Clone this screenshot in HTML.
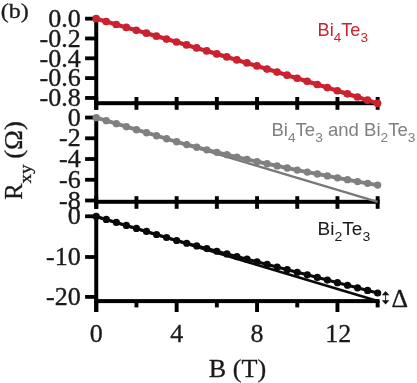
<!DOCTYPE html><html><head><meta charset="utf-8"><title>Hall resistance</title><style>html,body{margin:0;padding:0;background:#fff}svg{display:block}text{font-family:"Liberation Serif",serif}.s{font-family:"Liberation Sans",sans-serif}</style></head><body>
<svg width="417" height="383" viewBox="0 0 417 383">
<rect width="417" height="383" fill="#fff"/>
<rect x="94.25" y="16.70" width="4.00" height="93.10" fill="#000000"/>
<rect x="94.25" y="101.20" width="285.35" height="4.00" fill="#000000"/>
<rect x="85.10" y="16.75" width="11.15" height="3.80" fill="#000000"/>
<text transform="translate(80.80,26.95) scale(1.03,1)" font-size="25.3" text-anchor="end" fill="#1a1a1a" stroke="#1a1a1a" stroke-width="0.35">0.0</text>
<rect x="85.10" y="36.58" width="11.15" height="3.80" fill="#000000"/>
<text transform="translate(80.80,46.78) scale(1.03,1)" font-size="25.3" text-anchor="end" fill="#1a1a1a" stroke="#1a1a1a" stroke-width="0.35">-0.2</text>
<rect x="85.10" y="56.40" width="11.15" height="3.80" fill="#000000"/>
<text transform="translate(80.80,66.60) scale(1.03,1)" font-size="25.3" text-anchor="end" fill="#1a1a1a" stroke="#1a1a1a" stroke-width="0.35">-0.4</text>
<rect x="85.10" y="76.22" width="11.15" height="3.80" fill="#000000"/>
<text transform="translate(80.80,86.42) scale(1.03,1)" font-size="25.3" text-anchor="end" fill="#1a1a1a" stroke="#1a1a1a" stroke-width="0.35">-0.6</text>
<rect x="85.10" y="96.05" width="11.15" height="3.80" fill="#000000"/>
<text transform="translate(80.80,106.25) scale(1.03,1)" font-size="25.3" text-anchor="end" fill="#1a1a1a" stroke="#1a1a1a" stroke-width="0.35">-0.8</text>
<rect x="94.30" y="97.00" width="3.90" height="12.80" fill="#000000"/>
<rect x="134.50" y="97.00" width="3.90" height="12.80" fill="#000000"/>
<rect x="174.70" y="97.00" width="3.90" height="12.80" fill="#000000"/>
<rect x="214.90" y="97.00" width="3.90" height="12.80" fill="#000000"/>
<rect x="255.10" y="97.00" width="3.90" height="12.80" fill="#000000"/>
<rect x="295.30" y="97.00" width="3.90" height="12.80" fill="#000000"/>
<rect x="335.50" y="97.00" width="3.90" height="12.80" fill="#000000"/>
<rect x="375.70" y="97.00" width="3.90" height="12.80" fill="#000000"/>
<rect x="94.25" y="115.60" width="4.00" height="93.20" fill="#000000"/>
<rect x="94.25" y="199.80" width="285.35" height="4.00" fill="#000000"/>
<rect x="85.10" y="115.65" width="11.15" height="3.80" fill="#000000"/>
<text transform="translate(80.80,125.55) scale(1.03,1)" font-size="25.3" text-anchor="end" fill="#1a1a1a" stroke="#1a1a1a" stroke-width="0.35">0</text>
<rect x="85.10" y="136.39" width="11.15" height="3.80" fill="#000000"/>
<text transform="translate(80.80,146.29) scale(1.03,1)" font-size="25.3" text-anchor="end" fill="#1a1a1a" stroke="#1a1a1a" stroke-width="0.35">-2</text>
<rect x="85.10" y="157.12" width="11.15" height="3.80" fill="#000000"/>
<text transform="translate(80.80,167.03) scale(1.03,1)" font-size="25.3" text-anchor="end" fill="#1a1a1a" stroke="#1a1a1a" stroke-width="0.35">-4</text>
<rect x="85.10" y="177.86" width="11.15" height="3.80" fill="#000000"/>
<text transform="translate(80.80,187.76) scale(1.03,1)" font-size="25.3" text-anchor="end" fill="#1a1a1a" stroke="#1a1a1a" stroke-width="0.35">-6</text>
<rect x="85.10" y="198.60" width="11.15" height="3.80" fill="#000000"/>
<text transform="translate(80.80,208.50) scale(1.03,1)" font-size="25.3" text-anchor="end" fill="#1a1a1a" stroke="#1a1a1a" stroke-width="0.35">-8</text>
<rect x="94.30" y="196.20" width="3.90" height="12.60" fill="#000000"/>
<rect x="134.50" y="196.20" width="3.90" height="12.60" fill="#000000"/>
<rect x="174.70" y="196.20" width="3.90" height="12.60" fill="#000000"/>
<rect x="214.90" y="196.20" width="3.90" height="12.60" fill="#000000"/>
<rect x="255.10" y="196.20" width="3.90" height="12.60" fill="#000000"/>
<rect x="295.30" y="196.20" width="3.90" height="12.60" fill="#000000"/>
<rect x="335.50" y="196.20" width="3.90" height="12.60" fill="#000000"/>
<rect x="375.70" y="196.20" width="3.90" height="12.60" fill="#000000"/>
<rect x="94.25" y="214.50" width="4.00" height="97.50" fill="#000000"/>
<rect x="94.25" y="299.10" width="285.35" height="4.00" fill="#000000"/>
<rect x="85.10" y="214.40" width="11.15" height="3.80" fill="#000000"/>
<text transform="translate(80.80,224.30) scale(1.03,1)" font-size="25.3" text-anchor="end" fill="#1a1a1a" stroke="#1a1a1a" stroke-width="0.35">0</text>
<rect x="85.10" y="255.10" width="11.15" height="3.80" fill="#000000"/>
<text transform="translate(80.80,265.00) scale(1.03,1)" font-size="25.3" text-anchor="end" fill="#1a1a1a" stroke="#1a1a1a" stroke-width="0.35">-10</text>
<rect x="85.10" y="295.00" width="11.15" height="3.80" fill="#000000"/>
<text transform="translate(80.80,304.90) scale(1.03,1)" font-size="25.3" text-anchor="end" fill="#1a1a1a" stroke="#1a1a1a" stroke-width="0.35">-20</text>
<rect x="94.30" y="301.00" width="3.90" height="11.00" fill="#000000"/>
<rect x="134.50" y="301.00" width="3.90" height="6.40" fill="#000000"/>
<rect x="174.70" y="301.00" width="3.90" height="11.00" fill="#000000"/>
<rect x="214.90" y="301.00" width="3.90" height="6.40" fill="#000000"/>
<rect x="255.10" y="301.00" width="3.90" height="11.00" fill="#000000"/>
<rect x="295.30" y="301.00" width="3.90" height="6.40" fill="#000000"/>
<rect x="335.50" y="301.00" width="3.90" height="11.00" fill="#000000"/>
<rect x="375.70" y="301.00" width="3.90" height="6.40" fill="#000000"/>
<text transform="translate(96.25,342.30) scale(1.0,1)" font-size="26" text-anchor="middle" fill="#1a1a1a" stroke="#1a1a1a" stroke-width="0.3">0</text>
<text transform="translate(176.65,342.30) scale(1.0,1)" font-size="26" text-anchor="middle" fill="#1a1a1a" stroke="#1a1a1a" stroke-width="0.3">4</text>
<text transform="translate(257.05,342.30) scale(1.0,1)" font-size="26" text-anchor="middle" fill="#1a1a1a" stroke="#1a1a1a" stroke-width="0.3">8</text>
<text transform="translate(338.25,342.30) scale(1.0,1)" font-size="26" text-anchor="middle" fill="#1a1a1a" stroke="#1a1a1a" stroke-width="0.3">12</text>
<text transform="translate(237.50,376.70) scale(1.067,1)" font-size="24.5" text-anchor="middle" fill="#1a1a1a" stroke="#1a1a1a" stroke-width="0.3">B (T)</text>
<text transform="translate(0.80,17.50) scale(1.1,1)" font-size="21.8" text-anchor="start" fill="#1a1a1a" stroke="#1a1a1a" stroke-width="0.3">(b)</text>
<text transform="translate(22,199.7) rotate(-90)" font-size="24.5" fill="#1a1a1a" stroke="#1a1a1a" stroke-width="0.3">R</text>
<text transform="translate(31,183.6) rotate(-90) scale(1.13,1)" font-size="17" fill="#1a1a1a" stroke="#1a1a1a" stroke-width="0.3">xy</text>
<text transform="translate(22,158.8) rotate(-90) scale(1.09,1)" font-size="24.5" fill="#1a1a1a" stroke="#1a1a1a" stroke-width="0.3">(Ω)</text>
<path d="M96.15,18.70 L106.20,21.60 L116.25,24.50 L126.30,27.40 L136.35,30.31 L146.40,33.22 L156.45,36.14 L166.50,39.07 L176.55,42.01 L186.60,44.96 L196.65,47.92 L206.70,50.90 L216.75,53.88 L226.80,56.89 L236.85,59.90 L246.90,62.93 L256.95,65.97 L267.00,69.03 L277.05,72.09 L287.10,75.18 L297.15,78.27 L307.20,81.37 L317.25,84.49 L327.30,87.61 L337.35,90.74 L347.40,93.87 L357.45,97.01 L367.50,100.16 L377.55,103.30" fill="none" stroke="#cb2230" stroke-width="4.2" stroke-linejoin="round" stroke-linecap="round"/>
<circle cx="96.15" cy="18.70" r="3.85" fill="#cb2230"/>
<circle cx="106.20" cy="21.60" r="3.85" fill="#cb2230"/>
<circle cx="116.25" cy="24.50" r="3.85" fill="#cb2230"/>
<circle cx="126.30" cy="27.40" r="3.85" fill="#cb2230"/>
<circle cx="136.35" cy="30.31" r="3.85" fill="#cb2230"/>
<circle cx="146.40" cy="33.22" r="3.85" fill="#cb2230"/>
<circle cx="156.45" cy="36.14" r="3.85" fill="#cb2230"/>
<circle cx="166.50" cy="39.07" r="3.85" fill="#cb2230"/>
<circle cx="176.55" cy="42.01" r="3.85" fill="#cb2230"/>
<circle cx="186.60" cy="44.96" r="3.85" fill="#cb2230"/>
<circle cx="196.65" cy="47.92" r="3.85" fill="#cb2230"/>
<circle cx="206.70" cy="50.90" r="3.85" fill="#cb2230"/>
<circle cx="216.75" cy="53.88" r="3.85" fill="#cb2230"/>
<circle cx="226.80" cy="56.89" r="3.85" fill="#cb2230"/>
<circle cx="236.85" cy="59.90" r="3.85" fill="#cb2230"/>
<circle cx="246.90" cy="62.93" r="3.85" fill="#cb2230"/>
<circle cx="256.95" cy="65.97" r="3.85" fill="#cb2230"/>
<circle cx="267.00" cy="69.03" r="3.85" fill="#cb2230"/>
<circle cx="277.05" cy="72.09" r="3.85" fill="#cb2230"/>
<circle cx="287.10" cy="75.18" r="3.85" fill="#cb2230"/>
<circle cx="297.15" cy="78.27" r="3.85" fill="#cb2230"/>
<circle cx="307.20" cy="81.37" r="3.85" fill="#cb2230"/>
<circle cx="317.25" cy="84.49" r="3.85" fill="#cb2230"/>
<circle cx="327.30" cy="87.61" r="3.85" fill="#cb2230"/>
<circle cx="337.35" cy="90.74" r="3.85" fill="#cb2230"/>
<circle cx="347.40" cy="93.87" r="3.85" fill="#cb2230"/>
<circle cx="357.45" cy="97.01" r="3.85" fill="#cb2230"/>
<circle cx="367.50" cy="100.16" r="3.85" fill="#cb2230"/>
<circle cx="377.55" cy="103.30" r="3.85" fill="#cb2230"/>
<line x1="96.25" y1="117.8" x2="377.65" y2="201.9" stroke="#787878" stroke-width="2.3"/>
<path d="M96.25,117.70 L106.30,120.71 L116.35,123.71 L126.40,126.72 L136.45,129.73 L146.50,132.74 L156.55,135.74 L166.60,138.75 L176.65,141.76 L186.70,144.58 L196.75,147.24 L206.80,149.80 L216.85,152.28 L226.90,154.69 L236.95,157.04 L247.00,159.33 L257.05,161.57 L267.10,163.75 L277.15,165.89 L287.20,167.99 L297.25,170.04 L307.30,172.05 L317.35,174.02 L327.40,175.96 L337.45,177.86 L347.50,179.72 L357.55,181.55 L367.60,183.34 L377.65,185.11" fill="none" stroke="#808080" stroke-width="3.9" stroke-linejoin="round" stroke-linecap="round"/>
<circle cx="96.25" cy="117.70" r="3.65" fill="#808080"/>
<circle cx="106.30" cy="120.71" r="3.65" fill="#808080"/>
<circle cx="116.35" cy="123.71" r="3.65" fill="#808080"/>
<circle cx="126.40" cy="126.72" r="3.65" fill="#808080"/>
<circle cx="136.45" cy="129.73" r="3.65" fill="#808080"/>
<circle cx="146.50" cy="132.74" r="3.65" fill="#808080"/>
<circle cx="156.55" cy="135.74" r="3.65" fill="#808080"/>
<circle cx="166.60" cy="138.75" r="3.65" fill="#808080"/>
<circle cx="176.65" cy="141.76" r="3.65" fill="#808080"/>
<circle cx="186.70" cy="144.58" r="3.65" fill="#808080"/>
<circle cx="196.75" cy="147.24" r="3.65" fill="#808080"/>
<circle cx="206.80" cy="149.80" r="3.65" fill="#808080"/>
<circle cx="216.85" cy="152.28" r="3.65" fill="#808080"/>
<circle cx="226.90" cy="154.69" r="3.65" fill="#808080"/>
<circle cx="236.95" cy="157.04" r="3.65" fill="#808080"/>
<circle cx="247.00" cy="159.33" r="3.65" fill="#808080"/>
<circle cx="257.05" cy="161.57" r="3.65" fill="#808080"/>
<circle cx="267.10" cy="163.75" r="3.65" fill="#808080"/>
<circle cx="277.15" cy="165.89" r="3.65" fill="#808080"/>
<circle cx="287.20" cy="167.99" r="3.65" fill="#808080"/>
<circle cx="297.25" cy="170.04" r="3.65" fill="#808080"/>
<circle cx="307.30" cy="172.05" r="3.65" fill="#808080"/>
<circle cx="317.35" cy="174.02" r="3.65" fill="#808080"/>
<circle cx="327.40" cy="175.96" r="3.65" fill="#808080"/>
<circle cx="337.45" cy="177.86" r="3.65" fill="#808080"/>
<circle cx="347.50" cy="179.72" r="3.65" fill="#808080"/>
<circle cx="357.55" cy="181.55" r="3.65" fill="#808080"/>
<circle cx="367.60" cy="183.34" r="3.65" fill="#808080"/>
<circle cx="377.65" cy="185.11" r="3.65" fill="#808080"/>
<line x1="96.25" y1="216.8" x2="377.65" y2="301.0" stroke="#0a0a0a" stroke-width="2.6"/>
<path d="M96.25,216.40 L106.30,219.41 L116.35,222.43 L126.40,225.44 L136.45,228.46 L146.50,231.47 L156.55,234.49 L166.60,237.50 L176.65,240.51 L186.70,243.24 L196.75,245.92 L206.80,248.59 L216.85,251.24 L226.90,253.89 L236.95,256.53 L247.00,259.16 L257.05,261.78 L267.10,264.40 L277.15,267.02 L287.20,269.63 L297.25,272.24 L307.30,274.84 L317.35,277.45 L327.40,280.04 L337.45,282.64 L347.50,285.23 L357.55,287.82 L367.60,290.41 L377.65,293.00" fill="none" stroke="#0a0a0a" stroke-width="3.1" stroke-linejoin="round" stroke-linecap="round"/>
<circle cx="96.25" cy="216.40" r="3.6" fill="#0a0a0a"/>
<circle cx="106.30" cy="219.41" r="3.6" fill="#0a0a0a"/>
<circle cx="116.35" cy="222.43" r="3.6" fill="#0a0a0a"/>
<circle cx="126.40" cy="225.44" r="3.6" fill="#0a0a0a"/>
<circle cx="136.45" cy="228.46" r="3.6" fill="#0a0a0a"/>
<circle cx="146.50" cy="231.47" r="3.6" fill="#0a0a0a"/>
<circle cx="156.55" cy="234.49" r="3.6" fill="#0a0a0a"/>
<circle cx="166.60" cy="237.50" r="3.6" fill="#0a0a0a"/>
<circle cx="176.65" cy="240.51" r="3.6" fill="#0a0a0a"/>
<circle cx="186.70" cy="243.24" r="3.6" fill="#0a0a0a"/>
<circle cx="196.75" cy="245.92" r="3.6" fill="#0a0a0a"/>
<circle cx="206.80" cy="248.59" r="3.6" fill="#0a0a0a"/>
<circle cx="216.85" cy="251.24" r="3.6" fill="#0a0a0a"/>
<circle cx="226.90" cy="253.89" r="3.6" fill="#0a0a0a"/>
<circle cx="236.95" cy="256.53" r="3.6" fill="#0a0a0a"/>
<circle cx="247.00" cy="259.16" r="3.6" fill="#0a0a0a"/>
<circle cx="257.05" cy="261.78" r="3.6" fill="#0a0a0a"/>
<circle cx="267.10" cy="264.40" r="3.6" fill="#0a0a0a"/>
<circle cx="277.15" cy="267.02" r="3.6" fill="#0a0a0a"/>
<circle cx="287.20" cy="269.63" r="3.6" fill="#0a0a0a"/>
<circle cx="297.25" cy="272.24" r="3.6" fill="#0a0a0a"/>
<circle cx="307.30" cy="274.84" r="3.6" fill="#0a0a0a"/>
<circle cx="317.35" cy="277.45" r="3.6" fill="#0a0a0a"/>
<circle cx="327.40" cy="280.04" r="3.6" fill="#0a0a0a"/>
<circle cx="337.45" cy="282.64" r="3.6" fill="#0a0a0a"/>
<circle cx="347.50" cy="285.23" r="3.6" fill="#0a0a0a"/>
<circle cx="357.55" cy="287.82" r="3.6" fill="#0a0a0a"/>
<circle cx="367.60" cy="290.41" r="3.6" fill="#0a0a0a"/>
<circle cx="377.65" cy="293.00" r="3.6" fill="#0a0a0a"/>
<text class="s" transform="translate(317.6,36.2) scale(1.02,1)" font-size="17.8" fill="#cb2230">Bi<tspan font-size="13.2" dy="5.6">4</tspan><tspan dy="-5.6">Te</tspan><tspan font-size="13.2" dy="5.6">3</tspan></text>
<text class="s" transform="translate(271.4,136.3) scale(1.02,1)" font-size="18.2" fill="#808080">Bi<tspan font-size="13.5" dy="5.6">4</tspan><tspan dy="-5.6">Te</tspan><tspan font-size="13.5" dy="5.6">3</tspan><tspan dy="-5.6"> and Bi</tspan><tspan font-size="13.5" dy="5.6">2</tspan><tspan dy="-5.6">Te</tspan><tspan font-size="13.5" dy="5.6">3</tspan></text>
<text class="s" transform="translate(317.6,235.0) scale(1.04,1)" font-size="18.3" fill="#1a1a1a">Bi<tspan font-size="13.5" dy="5.6">2</tspan><tspan dy="-5.6">Te</tspan><tspan font-size="13.5" dy="5.6">3</tspan></text>
<path d="M385.6,293.5 L385.6,302.5" stroke="#111" stroke-width="0.9" fill="none"/>
<path d="M381.8,295.2 L385.6,291.0 L389.4,295.2 Z M381.8,300.3 L385.6,304.5 L389.4,300.3 Z" fill="#111"/>
<text transform="translate(391.40,306.80) scale(1.03,1)" font-size="25" text-anchor="start" fill="#1a1a1a" stroke="#1a1a1a" stroke-width="0.3">Δ</text>
</svg></body></html>
